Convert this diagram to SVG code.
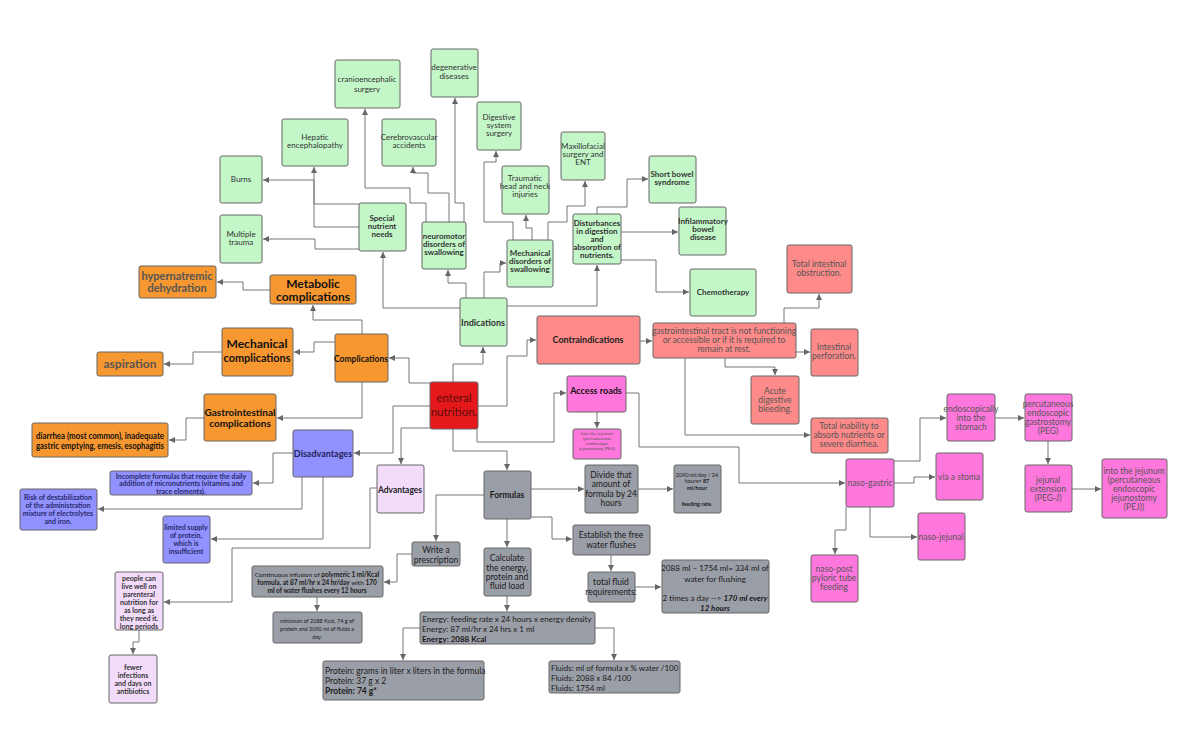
<svg xmlns="http://www.w3.org/2000/svg" width="1200" height="740" viewBox="0 0 1200 740">
<style>
text{font-family:Lato,"Liberation Sans",sans-serif;text-anchor:middle}
rect{stroke:#666;stroke-width:1}
rect.bg{stroke:none;fill:#fff}
.g rect{fill:#c3f7c8}.g text{font-size:8px;fill:#333}
.o rect{fill:#f7972f}
.s rect{fill:#ff8a8a}.s text{font-size:8.5px;fill:#555}
.p rect{fill:#ff77dd}.p text{font-size:8.5px;fill:#555}
.u rect{fill:#9191ff}.u text{font-size:7px;fill:#2a2a6a;font-weight:bold}
.l rect{fill:#f3dcfb}.l text{font-size:7px;fill:#333;font-weight:bold}
.y rect{fill:#9a9ea6}.y text{font-size:8.5px;fill:#1a1a1a}
.b{font-weight:bold}
.lt{text-anchor:start}
#edges polyline{fill:none;stroke:#777;stroke-width:1;marker-end:url(#a)}
</style>
<defs><marker id="a" markerUnits="userSpaceOnUse" markerWidth="6" markerHeight="6" refX="6" refY="3" orient="auto"><path d="M0,0L6,3L0,6z" fill="#666"/></marker></defs>
<rect class="bg" width="1200" height="740"/>
<g id="edges">
<polyline points="430,383 409,383 409,358 389,358"/>
<polyline points="453,382 453,364 483,364 483,347"/>
<polyline points="478,406 507,406 507,356 527,356 527,340 536,340"/>
<polyline points="477,429 477,442 554,442 554,393 566,393"/>
<polyline points="430,406 393,406 393,453 354,453"/>
<polyline points="430,428 401,428 401,464"/>
<polyline points="453,429 453,451 507,451 507,470"/>
<polyline points="362,334 362,320 313,320 313,305"/>
<polyline points="335,342 314,342 314,352 294,352"/>
<polyline points="362,382 362,418 277,418"/>
<polyline points="270,290 243,290 243,282 217,282"/>
<polyline points="222,352 193,352 193,364 164,364"/>
<polyline points="204,418 186,418 186,440 169,440"/>
<polyline points="460,308 383,308 383,252"/>
<polyline points="466,298 466,283 448,283 448,270"/>
<polyline points="484,298 484,272 500,272 500,263 506,263"/>
<polyline points="507,306 597,306 597,265"/>
<polyline points="359,204 314,204 314,167"/>
<polyline points="359,227 314,227 314,180 263,180"/>
<polyline points="359,249 315,249 315,239 263,239"/>
<polyline points="426,222 426,203 410,203 410,188 365,188 365,109"/>
<polyline points="449,222 449,193 428,193 428,173 413,173 413,167"/>
<polyline points="464,222 464,203 455,203 455,98"/>
<polyline points="513,240 513,222 484,222 484,162 496,162 496,151"/>
<polyline points="532,240 532,228 526,228 526,215"/>
<polyline points="548,240 548,222 567,222 567,206 585,206 585,181"/>
<polyline points="597,214 597,207 627,207 627,179 648,179"/>
<polyline points="621,232 678,232"/>
<polyline points="621,260 656,260 656,292 689,292"/>
<polyline points="640,341 652,341"/>
<polyline points="784,323 784,308 819,308 819,294"/>
<polyline points="796,352 810,352"/>
<polyline points="725,358 725,367 775,367 775,375"/>
<polyline points="685,358 685,435 810,435"/>
<polyline points="597,412 597,428"/>
<polyline points="626,393 639,393 639,447 739,447 739,483 845,483"/>
<polyline points="894,461 920,461 920,418 946,418"/>
<polyline points="894,483 914,483 914,477 935,477"/>
<polyline points="870,507 870,537 917,537"/>
<polyline points="846,507 846,530 835,530 835,554"/>
<polyline points="995,418 1024,418"/>
<polyline points="1048,441 1048,464"/>
<polyline points="1072,489 1101,489"/>
<polyline points="293,453 273,453 273,483 253,483"/>
<polyline points="302,477 302,509 98,509"/>
<polyline points="323,477 323,539 211,539"/>
<polyline points="377,488 370,488 370,548 232,548 232,602 164,602"/>
<polyline points="139,630 139,642 133,642 133,654"/>
<polyline points="531,489 584,489"/>
<polyline points="638,489 673,489"/>
<polyline points="484,495 436,495 436,541"/>
<polyline points="507,519 507,547"/>
<polyline points="531,517 552,517 552,539 572,539"/>
<polyline points="611,555 611,571"/>
<polyline points="635,587 661,587"/>
<polyline points="412,554 397,554 397,582 384,582"/>
<polyline points="317,597 317,611"/>
<polyline points="507,596 507,611"/>
<polyline points="420,628 403,628 403,660"/>
<polyline points="595,628 614,628 614,660"/>
</g>
<g class="g">
<g id="cranio"><rect x="335" y="60" width="65" height="48" rx="2"/><text x="367" y="82">cranioencephalic</text><text x="367" y="92">surgery</text></g>
<g id="degen"><rect x="431" y="49" width="47" height="48" rx="2"/><text x="454" y="70">degenerative</text><text x="454" y="79">diseases</text></g>
<g id="digestive"><rect x="477" y="102" width="44" height="48" rx="2"/><text x="499" y="120">Digestive</text><text x="499" y="128">system</text><text x="499" y="136">surgery</text></g>
<g id="hepatic"><rect x="282" y="119" width="66" height="47" rx="2"/><text x="315" y="140">Hepatic</text><text x="315" y="148">encephalopathy</text></g>
<g id="cerebro"><rect x="382" y="119" width="54" height="47" rx="2"/><text x="409" y="140">Cerebrovascular</text><text x="409" y="148">accidents</text></g>
<g id="maxillo"><rect x="561" y="132" width="44" height="48" rx="2"/><text x="583" y="149">Maxillofacial</text><text x="583" y="157">surgery and</text><text x="583" y="165">ENT</text></g>
<g id="burns"><rect x="220" y="156" width="42" height="47" rx="2"/><text x="241" y="182">Burns</text></g>
<g id="shortbowel"><rect x="649" y="156" width="47" height="47" rx="2"/><text class="b" x="672" y="177">Short bowel</text><text class="b" x="672" y="185">syndrome</text></g>
<g id="traumatic"><rect x="502" y="166" width="47" height="48" rx="2"/><text x="525" y="181">Traumatic</text><text x="525" y="189">head and neck</text><text x="525" y="197">injuries</text></g>
<g id="special"><rect x="359" y="203" width="47" height="48" rx="2"/><text class="b" x="382" y="221">Special</text><text class="b" x="382" y="229">nutrient</text><text class="b" x="382" y="237">needs</text></g>
<g id="multiple"><rect x="220" y="215" width="42" height="48" rx="2"/><text x="241" y="237">Multiple</text><text x="241" y="245">trauma</text></g>
<g id="neuromotor"><rect x="422" y="222" width="44" height="47" rx="2"/><text class="b" x="444" y="239">neuromotor</text><text class="b" x="444" y="247">disorders of</text><text class="b" x="444" y="255">swallowing</text></g>
<g id="mechdis"><rect x="507" y="240" width="46" height="47" rx="2"/><text class="b" x="530" y="256">Mechanical</text><text class="b" x="530" y="264">disorders of</text><text class="b" x="530" y="272">swallowing</text></g>
<g id="disturb"><rect x="573" y="214" width="48" height="50" rx="2"/><text class="b" x="597" y="226">Disturbances</text><text class="b" x="597" y="234">in digestion</text><text class="b" x="597" y="242">and</text><text class="b" x="597" y="250">absorption of</text><text class="b" x="597" y="258">nutrients.</text></g>
<g id="inflam"><rect x="679" y="207" width="47" height="48" rx="2"/><text class="b" x="703" y="224">Infilammatory</text><text class="b" x="703" y="232">bowel</text><text class="b" x="703" y="240">disease</text></g>
<g id="chemo"><rect x="690" y="269" width="66" height="47" rx="2"/><text class="b" x="723" y="295">Chemotherapy</text></g>
<g id="indications"><rect x="460" y="298" width="47" height="48" rx="2"/><text class="b" x="483" y="326" style="font-size:9px">Indications</text></g>
</g>
<g class="o">
<g id="hyper"><rect x="139" y="266" width="77" height="32" rx="2"/><text x="177" y="280" style="font-size:11px;font-weight:bold;fill:#555">hypernatremic</text><text x="177" y="292" style="font-size:11px;font-weight:bold;fill:#555">dehydration</text></g>
<g id="metabolic"><rect x="270" y="275" width="86" height="29" rx="2"/><text x="313" y="288" style="font-size:12px;font-weight:bold;fill:#111">Metabolic</text><text x="313" y="301" style="font-size:12px;font-weight:bold;fill:#111">complications</text></g>
<g id="mechanical"><rect x="222" y="328" width="71" height="48" rx="2"/><text x="257" y="348" style="font-size:12px;font-weight:bold;fill:#111">Mechanical</text><text x="257" y="362" textLength="67" lengthAdjust="spacingAndGlyphs" style="font-size:12px;font-weight:bold;fill:#111">complications</text></g>
<g id="aspiration"><rect x="97" y="352" width="66" height="24" rx="2"/><text x="130" y="368" style="font-size:12px;font-weight:bold;fill:#555">aspiration</text></g>
<g id="complications"><rect x="335" y="334" width="53" height="48" rx="2"/><text x="361" y="362" style="font-size:8.5px;font-weight:bold;fill:#111">Complications</text></g>
<g id="gicomp"><rect x="204" y="394" width="72" height="47" rx="2"/><text x="240" y="416" style="font-size:10px;font-weight:bold;fill:#111">Gastrointestinal</text><text x="240" y="427" style="font-size:10px;font-weight:bold;fill:#111">complications</text></g>
<g id="diarrhea"><rect x="32" y="423" width="136" height="34" rx="2"/><text x="100" y="439" textLength="128" lengthAdjust="spacingAndGlyphs" style="font-size:9.5px;font-weight:bold;fill:#111">diarrhea (most common), inadequate</text><text x="100" y="449" textLength="128" lengthAdjust="spacingAndGlyphs" style="font-size:9.5px;font-weight:bold;fill:#111">gastric emptying, emesis, esophagitis</text></g>
</g>
<g id="enteral"><rect x="430" y="382" width="48" height="47" rx="2" fill="#e5191b"/><text x="454" y="402" style="font-size:11.5px;fill:#5c0b0b">enteral</text><text x="454" y="416" style="font-size:11.5px;fill:#5c0b0b">nutrition.</text></g>
<g class="s">
<g id="contra"><rect x="537" y="316" width="103" height="48" rx="2"/><text class="b" x="588" y="343" style="fill:#222;font-size:9px">Contraindications</text></g>
<g id="gitract"><rect x="653" y="323" width="143" height="35" rx="2"/><text x="724" y="334">gastrointestinal tract is not functioning</text><text x="724" y="343">or accessible or if it is required to</text><text x="724" y="352">remain at rest.</text></g>
<g id="obstruction"><rect x="787" y="245" width="65" height="48" rx="2"/><text x="819" y="267">Total intestinal</text><text x="819" y="276">obstruction.</text></g>
<g id="perforation"><rect x="811" y="329" width="47" height="47" rx="2"/><text x="834" y="350">Intestinal</text><text x="834" y="359">perforation.</text></g>
<g id="acute"><rect x="751" y="376" width="48" height="48" rx="2"/><text x="775" y="394">Acute</text><text x="775" y="403">digestive</text><text x="775" y="412">bleeding.</text></g>
<g id="inability"><rect x="811" y="418" width="77" height="35" rx="2"/><text x="849" y="429">Total inability to</text><text x="849" y="438">absorb nutrients or</text><text x="849" y="447">severe diarrhea.</text></g>
</g>
<g class="p">
<g id="access"><rect x="567" y="376" width="59" height="36" rx="2"/><text class="b" x="596" y="394" style="fill:#111;font-size:9px">Access roads</text></g>
<g id="pejsmall"><rect x="573" y="429" width="48" height="30" rx="2"/><text x="597" y="435" style="font-size:4.5px">Into the jejunum</text><text x="597" y="440" style="font-size:4.5px">(percutaneous</text><text x="597" y="445" style="font-size:4.5px">endoscopic</text><text x="597" y="450" style="font-size:4.5px">jejunostomy (PEJ))</text></g>
<g id="nasogastric"><rect x="846" y="459" width="48" height="48" rx="2"/><text x="870" y="486">naso-gastric</text></g>
<g id="stoma"><rect x="936" y="453" width="47" height="47" rx="2"/><text x="959" y="480">via a stoma</text></g>
<g id="nasojejunal"><rect x="918" y="513" width="47" height="47" rx="2"/><text x="941" y="540">naso-jejunal</text></g>
<g id="nasopost"><rect x="811" y="555" width="47" height="47" rx="2"/><text x="834" y="572">naso-post</text><text x="834" y="581">pyloric tube</text><text x="834" y="590">feeding</text></g>
<g id="endoscopic"><rect x="947" y="394" width="48" height="47" rx="2"/><text x="971" y="412">endoscopically</text><text x="971" y="421">into the</text><text x="971" y="430">stomach</text></g>
<g id="peg"><rect x="1025" y="394" width="47" height="47" rx="2"/><text x="1048" y="407">percutaneous</text><text x="1048" y="416">endoscopic</text><text x="1048" y="425">gastrostomy</text><text x="1048" y="434">(PEG)</text></g>
<g id="pegj"><rect x="1025" y="465" width="47" height="47" rx="2"/><text x="1048" y="483">jejunal</text><text x="1048" y="492">extension</text><text x="1048" y="501">(PEG-J)</text></g>
<g id="pej"><rect x="1102" y="459" width="65" height="59" rx="2"/><text x="1134" y="474">into the jejunum</text><text x="1134" y="483">(percutaneous</text><text x="1134" y="492">endoscopic</text><text x="1134" y="501">jejunostomy</text><text x="1134" y="510">(PEJ))</text></g>
</g>
<g class="u">
<g id="disadv"><rect x="293" y="430" width="60" height="47" rx="2"/><text x="323" y="457" style="font-size:9px;fill:#222255">Disadvantages</text></g>
<g id="incomplete"><rect x="110" y="471" width="142" height="24" rx="2"/><text x="181" y="479">Incomplete formulas that require the daily</text><text x="181" y="486">addition of micronutrients (vitamins and</text><text x="181" y="494">trace elements).</text></g>
<g id="risk"><rect x="20" y="489" width="77" height="41" rx="2"/><text x="58" y="500">Risk of destabilization</text><text x="58" y="508">of the administration</text><text x="58" y="516">mixture of electrolytes</text><text x="58" y="524">and iron.</text></g>
<g id="limited"><rect x="163" y="516" width="47" height="47" rx="2"/><text x="186" y="530">limited supply</text><text x="186" y="538">of protein,</text><text x="186" y="546">which is</text><text x="186" y="554">insufficient</text></g>
</g>
<g class="l">
<g id="advantages"><rect x="377" y="465" width="47" height="48" rx="2"/><text x="400" y="493" style="font-size:8.5px;fill:#222">Advantages</text></g>
<g id="people"><rect x="115" y="572" width="48" height="58" rx="2"/><text x="139" y="581">people can</text><text x="139" y="589">live well on</text><text x="139" y="597">parenteral</text><text x="139" y="605">nutrition for</text><text x="139" y="613">as long as</text><text x="139" y="621">they need it.</text><text x="139" y="629">long periods</text></g>
<g id="fewer"><rect x="109" y="655" width="48" height="48" rx="2"/><text x="133" y="670">fewer</text><text x="133" y="678">infections</text><text x="133" y="686">and days on</text><text x="133" y="694">antibiotics</text></g>
</g>
<g class="y">
<g id="formulas"><rect x="484" y="471" width="47" height="48" rx="2"/><text class="b" x="507" y="498">Formulas</text></g>
<g id="divide"><rect x="585" y="465" width="53" height="48" rx="2"/><text x="611" y="478">Divide that</text><text x="611" y="487">amount of</text><text x="611" y="497">formula by 24</text><text x="611" y="506">hours</text></g>
<g id="rate"><rect x="674" y="465" width="47" height="48" rx="2"/><text x="697" y="477" style="font-size:5.5px">2090 ml/day / 24</text><text x="697" y="483" style="font-size:5.5px">hours= <tspan class="b">87</tspan></text><text class="b" x="697" y="490" style="font-size:5.5px">ml/hour</text><text class="b" x="697" y="506" style="font-size:5.5px">feeding rate.</text></g>
<g id="establish"><rect x="573" y="525" width="77" height="30" rx="2"/><text x="611" y="538">Establish the free</text><text x="611" y="548">water flushes</text></g>
<g id="write"><rect x="412" y="542" width="48" height="24" rx="2"/><text x="436" y="553">Write a</text><text x="436" y="563">prescription</text></g>
<g id="calculate"><rect x="484" y="548" width="47" height="48" rx="2"/><text x="507" y="561">Calculate</text><text x="507" y="571">the energy,</text><text x="507" y="580">protein and</text><text x="507" y="589">fluid load</text></g>
<g id="continuous"><rect x="252" y="566" width="131" height="31" rx="2"/><text x="317" y="577" style="font-size:6.5px">Continuous infusion of <tspan class="b">polymeric 1 ml/Kcal</tspan></text><text x="317" y="585" style="font-size:6.5px"><tspan class="b">formula, at 87 ml/hr x 24 hr/day</tspan> with <tspan class="b">170</tspan></text><text class="b" x="317" y="593" style="font-size:6.5px">ml of water flushes every 12 hours</text></g>
<g id="totalfluid"><rect x="588" y="572" width="47" height="30" rx="2"/><text x="611" y="585">total fluid</text><text x="611" y="595">requirements:</text></g>
<g id="flush"><rect x="662" y="560" width="107" height="53" rx="2"/><text x="715" y="571" style="font-size:8px">2088 ml – 1754 ml= 334 ml of</text><text x="715" y="582" style="font-size:8px">water for flushing</text><text x="715" y="601" style="font-size:8px">2 times a day --&gt; <tspan class="b" font-style="italic">170 ml every</tspan></text><text class="b" x="715" y="611" font-style="italic" style="font-size:8px">12 hours</text></g>
<g id="minimum"><rect x="273" y="612" width="89" height="31" rx="2"/><text x="317" y="623" style="font-size:5.5px">minimum of 2088 Kcal, 74 g of</text><text x="317" y="631" style="font-size:5.5px">protein and 2090 ml of fluids a</text><text x="317" y="639" style="font-size:5.5px">day.</text></g>
<g id="energy"><rect x="420" y="612" width="175" height="32" rx="2"/><text x="507" y="622" style="font-size:8px">Energy: feeding rate x 24 hours x energy density</text><text class="lt" x="422" y="632" style="font-size:8px">Energy: 87 ml/hr x 24 hrs x 1 ml</text><text class="lt b" x="422" y="642" style="font-size:8px">Energy: 2088 Kcal</text></g>
<g id="protein"><rect x="323" y="661" width="161" height="39" rx="2"/><text class="lt" x="325" y="674">Protein: grams in liter x liters in the formula</text><text class="lt" x="325" y="684">Protein: 37 g x 2</text><text class="lt b" x="325" y="694">Protein: 74 g*</text></g>
<g id="fluids"><rect x="549" y="661" width="131" height="32" rx="2"/><text class="lt" x="551" y="671" style="font-size:8px">Fluids: ml of formula x % water /100</text><text class="lt" x="551" y="681" style="font-size:8px">Fluids: 2088 x 84 /100</text><text class="lt" x="551" y="691" style="font-size:8px">Fluids: 1754 ml</text></g>
</g>
</svg>
